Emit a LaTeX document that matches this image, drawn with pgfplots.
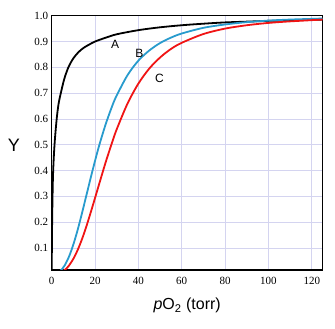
\documentclass[border=0pt]{standalone}
\usepackage{fontspec}
\setmainfont{Liberation Serif}
\newfontfamily\arial{Liberation Sans}
\usepackage{pgfplots}
\pgfplotsset{compat=1.18}
\definecolor{gridc}{RGB}{212,212,240}
\definecolor{bcol}{RGB}{40,155,205}
\definecolor{ccol}{RGB}{240,20,20}
\begin{document}
\begin{tikzpicture}
\useasboundingbox (-51.7pt,-59pt) rectangle (283.3pt,270pt);
\begin{axis}[
  at={(0pt,0pt)}, anchor=south west,
  scale only axis, width=270.9pt, height=254.3pt,
  xmin=0, xmax=125, ymin=0.015, ymax=1.0,
  xtick={0,20,40,60,80,100,120},
  ytick={0.1,0.2,0.3,0.4,0.5,0.6,0.7,0.8,0.9,1.0},
  yticklabel style={/pgf/number format/.cd, fixed, fixed zerofill, precision=1},
  /pgf/number format/assume math mode=true,
  ticklabel style={font=\fontsize{11}{12}\selectfont},
  xticklabel style={yshift=-4pt},
  major tick length=0pt,
  grid=major, grid style={gridc, line width=0.8pt},
  axis line style={line width=1.1pt},
  xlabel={\arial\fontsize{16}{18}\selectfont\textit{p}O\textsubscript{2} (torr)},
  xlabel style={at={(axis description cs:0.5,0)}, anchor=base, yshift=-40pt},
  ylabel={\arial\fontsize{18}{20}\selectfont Y},
  ylabel style={at={(axis description cs:0,0.49)}, anchor=center, rotate=-90, xshift=-37.7pt},
]
\addplot[black, line width=1.8pt, smooth] coordinates {
(0,0) (0.2,0.2) (0.6,0.38) (1.3,0.5) (2.3,0.6) (3.2,0.66) (4.2,0.7) (5.8,0.755) (7.7,0.8) (10,0.835) (12.5,0.86) (15,0.877) (17.5,0.889) (20,0.9) (25,0.915) (30,0.928) (40,0.944) (50,0.955) (60,0.963) (70,0.969) (80,0.974) (90,0.977) (100,0.980) (110,0.982) (125,0.985)};
\addplot[bcol, line width=1.8pt, smooth] coordinates {
(4,0.0117) (5,0.0208) (6,0.033) (8,0.0672) (10,0.114) (12,0.171) (14,0.236) (16,0.304) (18,0.372) (20,0.438) (22,0.5) (25,0.582) (28,0.652) (30,0.691) (35,0.770) (40,0.826) (45,0.865) (50,0.894) (55,0.915) (60,0.931) (70,0.953) (80,0.966) (90,0.975) (100,0.981) (110,0.985) (125,0.989)};
\addplot[ccol, line width=1.8pt, smooth] coordinates {
(5,0.0091) (6,0.015) (7,0.0227) (8,0.0324) (10,0.0584) (12,0.0928) (14,0.135) (16,0.184) (18,0.238) (20,0.294) (22,0.351) (25,0.435) (28,0.512) (30,0.560) (35,0.660) (40,0.737) (45,0.795) (50,0.838) (55,0.871) (60,0.895) (70,0.929) (80,0.950) (90,0.963) (100,0.972) (110,0.978) (125,0.985)};
\node[font=\arial\fontsize{12}{14}\selectfont] at (axis cs:29.3,0.89) {A};
\node[font=\arial\fontsize{12}{14}\selectfont] at (axis cs:40.4,0.855) {B};
\node[font=\arial\fontsize{12}{14}\selectfont] at (axis cs:49.7,0.759) {C};
\end{axis}
\end{tikzpicture}
\end{document}
